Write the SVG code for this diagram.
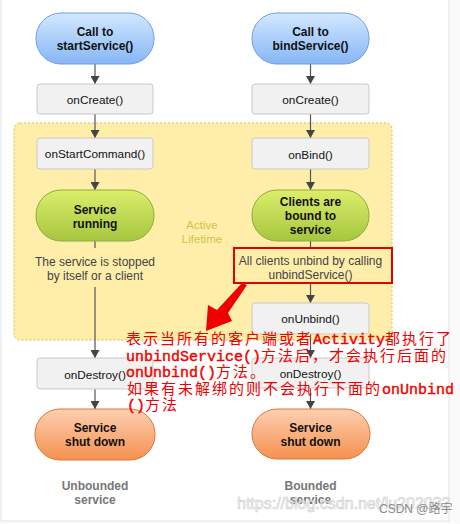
<svg xmlns="http://www.w3.org/2000/svg" width="460" height="524" viewBox="0 0 460 524">
<defs>
<linearGradient id="gBlue" x1="0" y1="0" x2="0" y2="1"><stop offset="0" stop-color="#d3e8ff"/><stop offset="1" stop-color="#86b6f6"/></linearGradient>
<linearGradient id="gGreen" x1="0" y1="0" x2="0" y2="1"><stop offset="0" stop-color="#dcee6c"/><stop offset="1" stop-color="#a6c63e"/></linearGradient>
<linearGradient id="gOrange" x1="0" y1="0" x2="0" y2="1"><stop offset="0" stop-color="#fdd0b2"/><stop offset="1" stop-color="#f5904e"/></linearGradient>
<marker id="ah" viewBox="0 0 8 9" refX="8" refY="4.5" markerWidth="8" markerHeight="9" markerUnits="userSpaceOnUse" orient="auto"><path d="M0,0 L8,4.5 L0,9 Z" fill="#444"/></marker>
<style>
text{font-family:"Liberation Sans",Arial,sans-serif;}
.pb{fill:url(#gBlue);stroke:#6f9fe4;stroke-width:1;}
.pg{fill:url(#gGreen);stroke:#8fac3c;stroke-width:1;}
.po{fill:url(#gOrange);stroke:#d8783a;stroke-width:1;}
.box{fill:#f1f1f1;stroke:#c9c9c9;stroke-width:1;}
.bt{font-size:12px;font-weight:bold;fill:#111;text-anchor:middle;}
.lt{font-size:11.8px;fill:#111;text-anchor:middle;}
.dt{font-size:12px;fill:#444;text-anchor:middle;}
.ft{font-size:12px;font-weight:bold;fill:#777;text-anchor:middle;}
.ln{stroke:#555;stroke-width:1.2;fill:none;}
.ar{stroke:#555;stroke-width:1.2;fill:none;marker-end:url(#ah);}
.rt{font-size:15px;fill:#f00000;}
.cj{font-family:"Noto Sans CJK SC","Noto Sans CJK JP",sans-serif;letter-spacing:2px;}
.mo{font-family:"Liberation Mono","Courier New",monospace;letter-spacing:0px;stroke:#f00000;stroke-width:0.4;}
</style>
</defs>
<rect x="0" y="0" width="460" height="524" fill="#fbfbfb"/>
<rect x="1" y="-1" width="448" height="522" fill="#fff" stroke="#e4e4e4" stroke-width="1"/>

<g id="active-lifetime">
<rect x="14" y="123" width="378" height="217" rx="6" fill="#feeeaa" stroke="#e6b25e" stroke-width="1" stroke-dasharray="2,2"/>
<text x="202" y="229" style="font-size:11.5px;fill:#d2c24a;text-anchor:middle">Active</text>
<text x="202" y="243" style="font-size:11.5px;fill:#d2c24a;text-anchor:middle">Lifetime</text>
</g>

<g id="connectors">
<line class="ar" x1="95" y1="64" x2="95" y2="84"/>
<line class="ar" x1="95" y1="114" x2="95" y2="138"/>
<line class="ar" x1="95" y1="169" x2="95" y2="190"/>
<line class="ln" x1="95" y1="241" x2="95" y2="248"/>
<line class="ar" x1="95" y1="287" x2="95" y2="358"/>
<line class="ar" x1="95" y1="389" x2="95" y2="409"/>
<line class="ar" x1="310.5" y1="64" x2="310.5" y2="84"/>
<line class="ar" x1="310.5" y1="114" x2="310.5" y2="138"/>
<line class="ar" x1="310.5" y1="169" x2="310.5" y2="190"/>
<line class="ln" x1="310.5" y1="241" x2="310.5" y2="248"/>
<line class="ar" x1="310.5" y1="283" x2="310.5" y2="303"/>
<line class="ar" x1="310.5" y1="334" x2="310.5" y2="358"/>
<line class="ar" x1="310.5" y1="388" x2="310.5" y2="409"/>
</g>

<g id="call-start">
<rect class="pb" x="36" y="13" width="118" height="51" rx="25"/>
<text class="bt" x="95" y="36">Call to</text>
<text class="bt" x="95" y="50">startService()</text>
</g>
<g id="oncreate-left">
<rect class="box" x="37" y="84" width="116" height="30" rx="3"/>
<text class="lt" x="95" y="104">onCreate()</text>
</g>
<g id="onstartcommand">
<rect class="box" x="37" y="138" width="116" height="31" rx="3"/>
<text class="lt" x="95" y="158">onStartCommand()</text>
</g>
<g id="service-running">
<rect class="pg" x="36" y="190" width="118" height="51" rx="25"/>
<text class="bt" x="95" y="213.5">Service</text>
<text class="bt" x="95" y="227.5">running</text>
</g>
<g id="stopped-note">
<text class="dt" x="95" y="265.5">The service is stopped</text>
<text class="dt" x="95" y="279.5">by itself or a client</text>
</g>
<g id="ondestroy-left">
<rect class="box" x="37" y="358" width="116" height="31" rx="3"/>
<text class="lt" x="95" y="379">onDestroy()</text>
</g>
<g id="shutdown-left">
<rect class="po" x="35" y="409" width="120" height="51" rx="25"/>
<text class="bt" x="95" y="432">Service</text>
<text class="bt" x="95" y="446">shut down</text>
</g>
<g id="unbounded-label">
<text class="ft" x="95" y="490">Unbounded</text>
<text class="ft" x="95" y="504">service</text>
</g>

<g id="call-bind">
<rect class="pb" x="252" y="13" width="117" height="51" rx="25"/>
<text class="bt" x="310.5" y="36">Call to</text>
<text class="bt" x="310.5" y="50">bindService()</text>
</g>
<g id="oncreate-right">
<rect class="box" x="252" y="84" width="117" height="30" rx="3"/>
<text class="lt" x="310.5" y="104">onCreate()</text>
</g>
<g id="onbind">
<rect class="box" x="252" y="138" width="117" height="31" rx="3"/>
<text class="lt" x="310.5" y="159">onBind()</text>
</g>
<g id="clients-bound">
<rect class="pg" x="252" y="190" width="117" height="51" rx="25"/>
<text class="bt" x="310.5" y="206">Clients are</text>
<text class="bt" x="310.5" y="220">bound to</text>
<text class="bt" x="310.5" y="234">service</text>
</g>
<g id="unbind-note">
<rect x="234" y="248" width="158" height="35" fill="none" stroke="#e80000" stroke-width="2"/>
<text class="dt" x="310.5" y="264.5">All clients unbind by calling</text>
<text class="dt" x="310.5" y="278.5">unbindService()</text>
</g>
<g id="onunbind">
<rect class="box" x="252" y="303" width="117" height="31" rx="3"/>
<text class="lt" x="310.5" y="323">onUnbind()</text>
</g>
<g id="ondestroy-right">
<rect class="box" x="252" y="358" width="117" height="30" rx="3"/>
<text class="lt" x="310.5" y="377.5">onDestroy()</text>
</g>
<g id="shutdown-right">
<rect class="po" x="252" y="409" width="118" height="50" rx="25"/>
<text class="bt" x="310.5" y="431.5">Service</text>
<text class="bt" x="310.5" y="445.5">shut down</text>
</g>
<g id="bounded-label">
<text class="ft" x="310.5" y="490">Bounded</text>
<text class="ft" x="310.5" y="504">service</text>
</g>

<g id="annotation">
<polygon points="242,283 247,285 228,313 232,321 206,331 208,305 217,310" fill="#f00000"/>
<text class="rt" x="126" y="344"><tspan class="cj">表示当所有的客户端或者</tspan><tspan class="mo">Activity</tspan><tspan class="cj">都执行了</tspan></text>
<text class="rt" x="126" y="360.5"><tspan class="mo">unbindService()</tspan><tspan class="cj">方法后，才会执行后面的</tspan></text>
<text class="rt" x="126" y="377"><tspan class="mo">onUnbind()</tspan><tspan class="cj">方法。</tspan></text>
<text class="rt" x="127" y="393.5"><tspan class="cj">如果有未解绑的则不会执行下面的</tspan><tspan class="mo">onUnbind</tspan></text>
<text class="rt" x="127" y="410"><tspan class="mo">()</tspan><tspan class="cj">方法</tspan></text>
</g>

<g id="watermark">
<text x="237" y="509" style="font-size:16px;fill:#ffffff;fill-opacity:0.6;stroke:#cfcfcf;stroke-width:0.7">https://blog.csdn.net/lu202032</text>
<text x="379" y="513" style="font-size:12px;fill:#8a8a8a;font-family:'Liberation Sans','Noto Sans CJK SC',sans-serif">CSDN @路宇</text>
</g>
</svg>
